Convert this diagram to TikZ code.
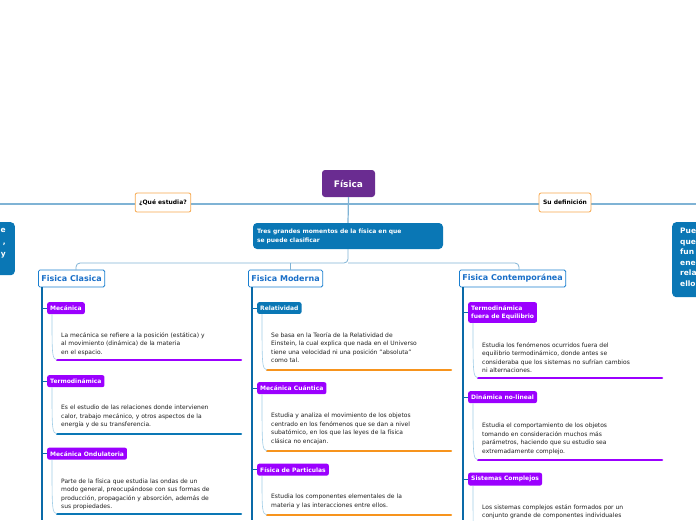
\documentclass[tikz,border=0pt]{standalone}
\usepackage{fontspec}
\setmainfont{DejaVu Sans}
\definecolor{lb}{RGB}{127,179,213}
\definecolor{lb2}{RGB}{160,205,230}
\definecolor{dblue}{RGB}{10,119,181}
\definecolor{tblue}{RGB}{10,106,168}
\definecolor{pur}{RGB}{155,0,255}
\definecolor{dpur}{RGB}{106,44,145}
\definecolor{ora}{RGB}{247,148,29}
\definecolor{lora}{RGB}{247,168,77}
\definecolor{bbord}{RGB}{26,127,208}
\definecolor{btext}{RGB}{26,111,200}
\definecolor{dtext}{RGB}{30,30,30}
\begin{document}
\begin{tikzpicture}[x=1pt,y=-1pt,
 lab/.style={draw=lora, fill=white, rounded corners=2pt, line width=0.8pt, font=\fontsize{6}{7}\selectfont\bfseries, minimum height=19pt, inner xsep=4pt},
 branch/.style={draw=bbord, fill=white, rounded corners=1.5pt, line width=0.8pt, text=btext, font=\fontsize{8}{9}\selectfont\bfseries, minimum height=17pt, inner xsep=3pt, anchor=west},
 sub/.style={fill=pur, rounded corners=2pt, text=white, font=\fontsize{6}{7.5}\selectfont\bfseries, align=left, inner xsep=3pt, inner ysep=3.5pt, anchor=north west},
 subb/.style={sub, fill=dblue},
 desc/.style={font=\fontsize{6}{8.5}\selectfont, align=left, anchor=north west, inner sep=0pt, text=dtext}
]
\useasboundingbox (0,0) rectangle (696,520);
\draw[line width=1.2pt, draw=lb] (0,204) -- (696,204);
\begin{scope}
\clip (0,0) rectangle (696,520);
\node[fill=dblue, rounded corners=4pt, minimum width=40pt, minimum height=53pt, anchor=north east] (L) at (15,222) {};
\node[fill=dblue, rounded corners=4pt, minimum width=50pt, minimum height=75pt, anchor=north west] (R) at (672,222) {};
\end{scope}
\node[text=white, font=\fontsize{7.5}{10.5}\selectfont\bfseries, align=left, anchor=north west, inner sep=0pt] (Rt) at (680,228) {Pue\\que\\fun\\ene\\rela\\ello};
\node[text=white, font=\fontsize{7.5}{12}\selectfont\bfseries, anchor=north east, inner sep=0pt, align=right] (Lt) at (6,228) {e\\,\\y};
\node[lab] (q) at (163,202.5) {¿Qué estudia?};
\node[lab] (d) at (565,202.5) {Su definición};
\node[fill=dpur, rounded corners=3pt, text=white, font=\fontsize{9}{10}\selectfont\bfseries, minimum width=53pt, minimum height=27pt] (F) at (348.5,183.5) {Física};
\node[fill=dblue, rounded corners=4pt, text=white, font=\fontsize{6}{9.5}\selectfont\bfseries, align=left, minimum width=190pt, minimum height=26pt, text width=182pt] (T) at (348,236) {Tres grandes momentos de la física en que\\se puede clasificar};
\draw[line width=1.2pt, draw=lb] (F.south) -- (T.north);
\node[branch] (C) at (38,278.5) {Fisica Clasica};
\node[branch] (M) at (248,278.5) {Fisica Moderna};
\node[branch] (N) at (459,278.5) {Fisica Contemporánea};
\draw[line width=0.8pt, draw=lb, rounded corners=4pt] (T.south) -- (348,263) -- (76,263) -- (76,270);
\draw[line width=0.8pt, draw=lb, rounded corners=4pt] (348,263) -- (519,263) -- (519,270);
\draw[line width=0.8pt, draw=lb] (290,270) -- (290,263);
\foreach \x in {42,252,463}{\draw[line width=1.5pt, draw=tblue] (\x,287) -- (\x,520);}
\newcommand{\mysubitem}[9]{%
 \node[#2] (#1) at (#3+5,#4) {#5};
 \draw[line width=0.8pt, draw=tblue] (#3,0 |- #1.west) -- (#1.west);
 \node[desc] (#1d) at (#3+19,#6) {#7};
 \draw[line width=2.5pt, draw=#9, line cap=round] (#3+15,#8) -- (#3+199,#8);
 \draw[line width=0.6pt, draw=lb2] (#3+10,0 |- #1.south) .. controls (#3+10,#8-5) and (#3+10,#8-1) .. (#3+15,#8);
}
\mysubitem{c1}{sub}{42}{302}{Mecánica}{332}{La mecánica se refiere a la posición (estática) y\\al movimiento (dinámica) de la materia\\en el espacio.}{360}{pur}
\mysubitem{c2}{sub}{42}{375}{Termodinámica}{405}{Es el estudio de las relaciones donde intervienen\\calor, trabajo mecánico, y otros aspectos de la\\energía y de su transferencia.}{434}{dblue}
\mysubitem{c3}{sub}{42}{447.5}{Mecánica Ondulatoria}{478}{Parte de la física que estudia las ondas de un\\modo general, preocupándose con sus formas de\\producción, propagación y absorción, además de\\sus propiedades.}{514}{dblue}
\mysubitem{m1}{subb}{252}{302}{Relatividad}{332}{Se basa en la Teoría de la Relatividad de\\Einstein, la cual explica que nada en el Universo\\tiene una velocidad ni una posición "absoluta"\\como tal.}{370}{ora}
\mysubitem{m2}{sub}{252}{382}{Mecánica Cuántica}{413}{Estudia y analiza el movimiento de los objetos\\centrado en los fenómenos que se dan a nivel\\subatómico, en los que las leyes de la física\\clásica no encajan.}{451}{ora}
\mysubitem{m3}{sub}{252}{463.5}{Física de Particulas}{494}{Estudia los componentes elementales de la\\materia y las interacciones entre ellos.}{515}{ora}
\mysubitem{n1}{sub}{463}{302}{Termodinámica\\fuera de Equilibrio}{342}{Estudia los fenómenos ocurridos fuera del\\equilibrio termodinámico, donde antes se\\consideraba que los sistemas no sufrían cambios\\ni alternaciones.}{378}{pur}
\mysubitem{n2}{sub}{463}{391}{Dinámica no-lineal}{423}{Estudia el comportamiento de los objetos\\tomando en consideración muchos más\\parámetros, haciendo que su estudio sea\\extremadamente complejo.}{460}{pur}
\mysubitem{n3}{sub}{463}{472.5}{Sistemas Complejos}{504}{Los sistemas complejos están formados por un\\conjunto grande de componentes individuales}{540}{pur}
\end{tikzpicture}
\end{document}
